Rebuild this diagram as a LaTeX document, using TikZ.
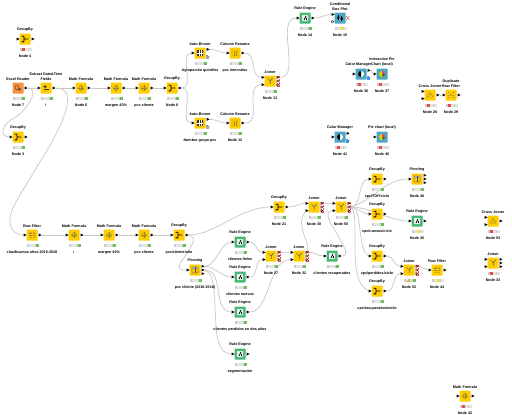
\documentclass[tikz,border=0pt]{standalone}
\usepackage{xcolor}
\usepackage{fontspec}
\setmainfont{Liberation Sans}
\usetikzlibrary{arrows.meta,shapes.geometric,positioning,calc,backgrounds}
\definecolor{kyellow}{HTML}{FFCC00}
\definecolor{kgreen}{HTML}{45BA75}
\definecolor{kblue}{HTML}{4EA5C6}
\definecolor{korange}{HTML}{F7913D}
\definecolor{kolive}{HTML}{9A8A30}
\definecolor{stat1}{HTML}{E8484F}
\definecolor{stat2}{HTML}{F6E23C}
\definecolor{stat3}{HTML}{6FBE5A}

% ports on both sides of an icon: name, number in, number out
\newcommand{\kports}[3]{%
  \ifnum#2>0
    \pgfmathsetmacro{\kstep}{#2==2 ? 7.3 : 3.7}
    \foreach \k in {1,...,#2} {
      \pgfmathsetmacro{\ky}{(((#2+1)/2)-\k)*\kstep}
      \node[port] (#1-i\k) at ([shift={(-7.5,\ky)}]#1.center) {};
    }
  \fi
  \ifnum#3>0
    \pgfmathsetmacro{\kstep}{#3==2 ? 7.3 : 3.7}
    \foreach \k in {1,...,#3} {
      \pgfmathsetmacro{\ky}{(((#3+1)/2)-\k)*\kstep}
      \node[port] (#1-o\k) at ([shift={(7.5,\ky)}]#1.center) {};
    }
  \fi}
% traffic light under an icon: name, lit cell
\newcommand{\kstatus}[2]{%
  \node[statbar] (#1-s) at ([yshift=-10.5pt]#1.center) {};
  \foreach \c in {1,2,3} {
    \fill[gray!22] ([shift={(\c*3.5-7+0.3,-1.4)}]#1-s.center) rectangle ++(2.9,2.8);
  }
  \fill[stat#2] ([shift={(#2*3.5-7+0.3,-1.4)}]#1-s.center) rectangle ++(2.9,2.8);}

\begin{document}
\begin{tikzpicture}[
    x=1pt, y=1pt,
    on grid,
    toplbl/.style={font=\fontsize{3.7}{5}\selectfont\bfseries, align=center, inner sep=0pt, yshift=2pt},
    botlbl/.style={font=\fontsize{3.7}{5}\selectfont\bfseries, align=center, inner sep=0pt, yshift=-10pt},
    kn/.style 2 args={label={[toplbl]above:{#1}}, label={[botlbl]below:{#2}}},
    glyph/.style={path picture={\begin{scope}[shift={(path picture bounding box.center)}]#1\end{scope}}},
    icon/.style={rectangle, rounded corners=0.6pt, minimum size=11pt, inner sep=0pt, outer sep=0pt},
    manip/.style={icon, fill=kyellow},
    port/.style={isosceles triangle, isosceles triangle stretches, fill=black, inner sep=0pt,
                 minimum width=3pt, minimum height=3pt},
    statbar/.style={rectangle, fill=gray!40, minimum width=11pt, minimum height=3.6pt, inner sep=0pt},
    wire/.style={draw=gray!45, line width=0.7pt},
    reader/.style={icon, fill=korange, glyph={\draw[black!70, line width=0.5pt] (-2.5,-1.5) rectangle (0.5,2.5); \fill[black!70] (0.5,-2.5) rectangle (2.5,0);}},
    datefld/.style={manip, glyph={\fill[black!80] (-2.5,0.5) rectangle (0.5,2.5); \draw[black!80, line width=0.7pt] (-2.5,-1.5) -- (2.5,-1.5);}},
    mathf/.style={manip, glyph={\draw[kolive, line width=0.5pt] (0,0) circle (2.3); \draw[kolive, line width=0.35pt] (-3,0) -- (3,0) (0,-3) -- (0,3);}},
    grpby/.style={manip, glyph={\draw[black, line width=0.9pt] (-3.4,2.8) -- (-1,2.8) -- (-1,-2.8) -- (-3.4,-2.8) (-1,0) -- (3.4,0);}},
    binner/.style={manip, glyph={\fill[black!80] (-3,-3) rectangle (3,3); \draw[white, line width=0.4pt] (-1,-3) -- (-1,3) (1,-3) -- (1,3) (-3,0) -- (3,0);}},
    colren/.style={manip, glyph={\draw[kolive, line width=0.6pt, dotted] (-3,-3) rectangle (3,3); \draw[kolive, line width=0.5pt] (-1,-2.5) -- (-1,2.5) (1,-2.5) -- (1,2.5);}},
    joinr/.style={manip, glyph={\draw[korange!80!black, line width=0.7pt] (-2.5,3) -- (0,0); \draw[kgreen!70!black, line width=0.7pt] (2.5,3) -- (0,0); \draw[kolive, line width=0.7pt] (0,0) -- (0,-3);}},
    rowfil/.style={manip, glyph={\fill[kolive] (-3,-2.5) rectangle (3,2.5); \draw[kyellow, line width=0.4pt] (-3,-0.8) -- (3,-0.8) (-3,0.8) -- (3,0.8) (0,-2.5) -- (0,2.5);}},
    pivot/.style={manip, glyph={\draw[korange!80!black, line width=0.7pt] (-3,-3) rectangle (3,3); \fill[gray!70] (-3,1) rectangle (3,3); \draw[black!70, line width=0.5pt] (0,-3) -- (0,3);}},
    crossj/.style={manip, glyph={\draw[kolive, line width=0.5pt] (0,3) -- (-3,-2) -- (3,-2) -- cycle (0,-0.5) -- (0,1);}},
    dupfil/.style={manip, glyph={\draw[kolive, line width=0.7pt, dotted] (-2.5,-3) -- (-2.5,3) (2.5,-3) -- (2.5,3); \fill[kolive] (-0.8,-0.8) rectangle (0.8,0.8);}},
    rulee/.style={icon, fill=kgreen, glyph={\fill[white!90!gray] (-3,-3) rectangle (3,3); \draw[black, line width=0.7pt] (-1,-2) -- (1,2) (1.5,-2) -- (1.5,0);}},
    boxpl/.style={icon, fill=kblue, glyph={\draw[black, line width=0.9pt] (-1.8,-2) -- (-1.8,3) (1.8,-3) -- (1.8,2); \fill[black] (-3,-0.5) rectangle (-0.6,1.5) (0.6,-1.5) rectangle (3,0.5);}},
    colman/.style={icon, fill=kblue, glyph={\fill[white] (0,0) circle (3); \fill[black] (0,3) arc (90:270:3) -- cycle;}},
    piech/.style={icon, fill=kblue, glyph={\fill[kyellow!80!green] (0,0) circle (3); \fill[stat1] (0,0) -- (0,3) arc (90:0:3) -- cycle; \fill[black!70] (0,0) -- (3,0) arc (0:-70:3) -- cycle;}}
]
\useasboundingbox (0,0) rectangle (512,-415);
% --- upper row ----------------------------------------------------------
\node[grpby, kn={GroupBy}{Node 4}]                          (gb4)  at (25,-39) {};
\node[reader, kn={Excel Reader}{Node 7}]                    (rdr)  at (18,-88) {};
\node[datefld, right=28pt of rdr, kn={Extract Date\&Time\\Fields}{i}] (ext) {};
\node[mathf, right=35pt of ext, kn={Math Formula}{Node 6}]  (mfa) {};
\node[mathf, right=35pt of mfa, kn={Math Formula}{margen 40\%}] (mfb) {};
\node[mathf, right=28pt of mfb, kn={Math Formula}{pvc cliente}] (mfc) {};
\node[grpby, right=28pt of mfc, kn={GroupBy}{Node 8}]       (gb8) {};
\node[grpby, below=49pt of rdr, kn={GroupBy}{Node 3}]       (gb3) {};
\node[binner, kn={Auto-Binner}{Agrupación quintiles}]       (binT) at (200,-53) {};
\node[colren, right=35pt of binT, kn={Column Rename}{pvc intervalos}] (renT) {};
\node[binner, kn={Auto-Binner}{Nombre grupo pvc}]           (binB) at (200,-123) {};
\node[colren, right=35pt of binB, kn={Column Rename}{Node 12}] (renB) {};
\node[joinr, kn={Joiner}{Node 13}]                          (jn13) at (270,-81) {};
\node[rulee, kn={Rule Engine}{Node 14}]                     (re14) at (305,-18) {};
\node[boxpl, right=35pt of re14, kn={Conditional\\Box Plot}{Node 15}] (box15) {};
% --- views --------------------------------------------------------------
\node[colman, label={[toplbl,xshift=-2.5pt]above:{Color Manager}}, label={[botlbl]below:{Node 36}}] (cm36) at (361,-74) {};
\node[piech, right=21pt of cm36, kn={Interactive Pie\\Chart (local)}{Node 37}] (pie37) {};
\node[crossj, kn={Cross Joiner}{Node 28}]                   (cj28) at (430,-95) {};
\node[dupfil, right=21pt of cj28, kn={Duplicate\\Row Filter}{Node 29}] (dup29) {};
\node[colman, kn={Color Manager}{Node 41}]                  (cm41) at (340,-137) {};
\node[piech, right=42pt of cm41, kn={Pie chart (local)}{Node 40}] (pie40) {};
% --- lower row ----------------------------------------------------------
\node[rowfil, kn={Row Filter}{clasificamos años 2016-2018}] (rf) at (32,-235) {};
\node[mathf, right=42pt of rf, kn={Math Formula}{i}]        (mfd) {};
\node[mathf, right=35pt of mfd, kn={Math Formula}{margen 40\%}] (mfe) {};
\node[mathf, right=35pt of mfe, kn={Math Formula}{pvc cliente}] (mff) {};
\node[grpby, right=35pt of mff, kn={GroupBy}{pvc/cliente/año}] (gbb) {};
\node[pivot, kn={Pivoting}{pvc cliente (2016-2018)}]        (piv) at (195,-270) {};
\node[rulee, kn={Rule Engine}{clientes fieles}]             (re1) at (240,-242) {};
\node[rulee, below=35pt of re1, kn={Rule Engine}{clientes nuevos}] (re2) {};
\node[rulee, below=35pt of re2, kn={Rule Engine}{clientes perdidos en dos años}] (re3) {};
\node[rulee, below=42pt of re3, kn={Rule Engine}{segmentación}] (re4) {};
\node[grpby, kn={GroupBy}{Node 21}]                         (gb21) at (279,-207) {};
\node[joinr, right=35pt of gb21, kn={Joiner}{Node 30}]      (jn30) {};
\node[joinr, right=27pt of jn30, kn={Joiner}{Node 50}]      (jn50) {};
\node[joinr, kn={Joiner}{Node 27}]                          (jn27) at (271,-256) {};
\node[joinr, right=28pt of jn27, kn={Joiner}{Node 32}]      (jn32) {};
\node[rulee, right=33pt of jn32, kn={Rule Engine}{clientes recuperados}] (re5) {};
% --- right column -------------------------------------------------------
\node[grpby, kn={GroupBy}{cpc/TOP/ciclo}]                   (gbT) at (377,-179) {};
\node[grpby, below=35pt of gbT, kn={GroupBy}{cpc/nuevos/ciclo}] (gbN) {};
\node[grpby, below=42pt of gbN, kn={GroupBy}{cpc/perdidos/ciclo}] (gbP) {};
\node[grpby, below=35pt of gbP, kn={GroupBy}{cpc/recuperados/ciclo}] (gbR) {};
\node[pivot, right=40pt of gbT, kn={Pivoting}{Node 46}]     (piv46) {};
\node[rulee, kn={Rule Engine}{Node 45}]                     (re45) at (417,-221) {};
\node[joinr, kn={Joiner}{Node 52}]                          (jn52) at (409,-270) {};
\node[rowfil, right=28pt of jn52, kn={Row Filter}{Node 44}] (rf44) {};
\node[crossj, kn={Cross Joiner}{Node 53}]                   (cj53) at (493,-221) {};
\node[joinr, below=42pt of cj53, kn={Joiner}{Node 33}]      (jn33) {};
\node[mathf, kn={Math Formula}{Node 42}]                    (mf42) at (465,-396) {};
% --- ports and lights ---------------------------------------------------
\foreach \n/\i/\o/\s in {gb4/1/1/1,rdr/0/1/3,ext/1/1/3,mfa/1/1/3,mfb/1/1/3,mfc/1/1/3,gb8/1/1/3,gb3/1/1/3,
    binT/1/2/3,renT/1/1/3,binB/1/2/3,renB/1/1/3,jn13/2/3/3,re14/1/1/3,box15/2/0/2,
    cm36/1/2/1,pie37/1/0/1,cj28/2/1/1,dup29/1/1/1,cm41/1/2/1,pie40/1/0/1,
    rf/1/1/3,mfd/1/1/3,mfe/1/1/3,mff/1/1/3,gbb/1/1/3,piv/1/3/3,re1/1/1/3,re2/1/1/3,re3/1/1/3,re4/1/1/3,
    gb21/1/1/3,jn30/2/3/3,jn50/2/3/3,jn27/2/3/3,jn32/2/3/3,re5/1/1/3,
    gbT/1/1/3,gbN/1/1/3,gbP/1/1/3,gbR/1/1/3,piv46/1/3/3,re45/1/1/2,jn52/2/3/3,rf44/1/1/2,
    cj53/2/1/1,jn33/2/3/1,mf42/1/1/1} {
  \kports{\n}{\i}{\o}
  \kstatus{\n}{\s}
}
% inactive join outputs
\foreach \n in {jn13,jn30,jn50,jn27,jn32,jn52} {
  \draw[stat1, line width=0.5pt, densely dotted] ([shift={(7.2,-5)}]\n.center) rectangle ([shift={(9.6,5)}]\n.center);
}
% second outputs of binners and colour managers, hollow input of the box plot
\foreach \n in {binT,binB} { \fill[gray!70] ([shift={(6,-6)}]\n.center) rectangle ++(3.2,3.2); }
\foreach \n in {cm36,cm41} { \fill[cyan!70!blue!80] ([shift={(5.8,-5.6)}]\n.center) rectangle ++(3.6,3); }
\fill[white, draw=black!70, line width=0.3pt] (box15-i2) circle (1.2);
\draw[stat1!80!green, line width=0.5pt] ([shift={(6,-2)}]box15.center) -- ++(3.4,4) ([shift={(6,2)}]box15.center) -- ++(3.4,-4);
\fill[kyellow, draw=black!40, line width=0.2pt] ([shift={(-1.8,-11.8)}]jn52.center) -- ++(3.6,0) -- ++(-1.8,3) -- cycle;
% --- wires --------------------------------------------------------------
\begin{scope}[on background layer]
    \draw[wire] (rdr-o1) -- (ext-i1);
    \draw[wire] (rdr-o1) .. controls (40,-88) and (28,-110) .. (14,-118)
                         .. controls (0,-126) and (0,-137) .. (gb3-i1);
    \draw[wire] (ext-o1) -- (mfa-i1);
    \draw[wire] (ext-o1) .. controls (76,-88) and (70,-115) .. (38,-165)
                         .. controls (25,-188) and (8,-210) .. (10,-222)
                         .. controls (11,-232) and (18,-235) .. (rf-i1);
    \draw[wire] (mfa-o1) -- (mfb-i1);
    \draw[wire] (mfb-o1) -- (mfc-i1);
    \draw[wire] (mfc-o1) -- (gb8-i1);
    \draw[wire] (gb8-o1) to[out=0,in=180,looseness=0.9] (binT-i1);
    \draw[wire] (gb8-o1) to[out=0,in=180,looseness=0.9] (binB-i1);
    \draw[wire] (binT-o1) to[out=0,in=180] (renT-i1);
    \draw[wire] (binB-o1) to[out=0,in=180] (renB-i1);
    \draw[wire] (renT-o1) to[out=0,in=180,looseness=1.1] (jn13-i1);
    \draw[wire] (renB-o1) to[out=0,in=180,looseness=1.1] (jn13-i2);
    \draw[wire] (jn13-o1) to[out=0,in=180,looseness=0.9] (re14-i1);
    \draw[wire] (re14-o1) to[out=0,in=180] (box15-i1);
    \draw[wire] (cm36-o1) to[out=0,in=180] (pie37-i1);
    \draw[wire] (cj28-o1) -- (dup29-i1);
    \draw[wire] (rf-o1) -- (mfd-i1);
    \draw[wire] (mfd-o1) -- (mfe-i1);
    \draw[wire] (mfe-o1) -- (mff-i1);
    \draw[wire] (mff-o1) -- (gbb-i1);
    \draw[wire] (gbb-o1) .. controls (215,-235) and (240,-207) .. (gb21-i1);
    \draw[wire] (gbb-o1) .. controls (200,-236) and (188,-252) .. (181,-262)
                         .. controls (176,-270) and (182,-270) .. (piv-i1);
    \draw[wire] (piv-o1) to[out=0,in=180,looseness=0.8] (re1-i1);
    \draw[wire] (piv-o1) to[out=0,in=180,looseness=0.8] (re2-i1);
    \draw[wire] (piv-o2) to[out=0,in=180] (re3-i1);
    \draw[wire] (piv-o2) .. controls (216,-272) and (214,-300) .. (216,-325)
                         .. controls (217,-345) and (222,-354) .. (re4-i1);
    \draw[wire] (re1-o1) to[out=0,in=180] (jn27-i1);
    \draw[wire] (re2-o1) to[out=0,in=180] (jn27-i2);
    \draw[wire] (re3-o1) .. controls (270,-312) and (268,-259.5) .. (jn32-i2);
    \draw[wire] (jn27-o1) -- (jn32-i1);
    \draw[wire] (jn32-o1) to[out=0,in=180] (re5-i1);
    \draw[wire] (gb21-o1) to[out=0,in=180] (jn30-i1);
    \draw[wire] (jn32-o1) .. controls (312,-245) and (294,-225) .. (jn30-i2);
    \draw[wire] (jn30-o1) -- (jn50-i1);
    \draw[wire] (re5-o1) .. controls (352,-256) and (340,-240) .. (330,-222)
                         .. controls (325,-212) and (330,-210.5) .. (jn50-i2);
    \draw[wire] (jn50-o2) to[out=0,in=180,looseness=0.8] (gbT-i1);
    \draw[wire] (jn50-o2) to[out=0,in=180,looseness=0.8] (gbN-i1);
    \draw[wire] (jn50-o2) .. controls (363,-207) and (357,-250) .. (gbP-i1);
    \draw[wire] (jn50-o2) .. controls (362,-210) and (345,-282) .. (gbR-i1);
    \draw[wire] (jn50-o2) .. controls (370,-203) and (385,-179) .. (piv46-i1);
    \draw[wire] (jn50-o2) .. controls (370,-207) and (390,-221) .. (re45-i1);
    \draw[wire] (gbP-o1) to[out=0,in=180] (jn52-i1);
    \draw[wire] (gbR-o1) to[out=0,in=180] (jn52-i2);
    \draw[wire] (jn52-o1) to[out=0,in=180] (rf44-i1);
\end{scope}
\end{tikzpicture}
\end{document}
